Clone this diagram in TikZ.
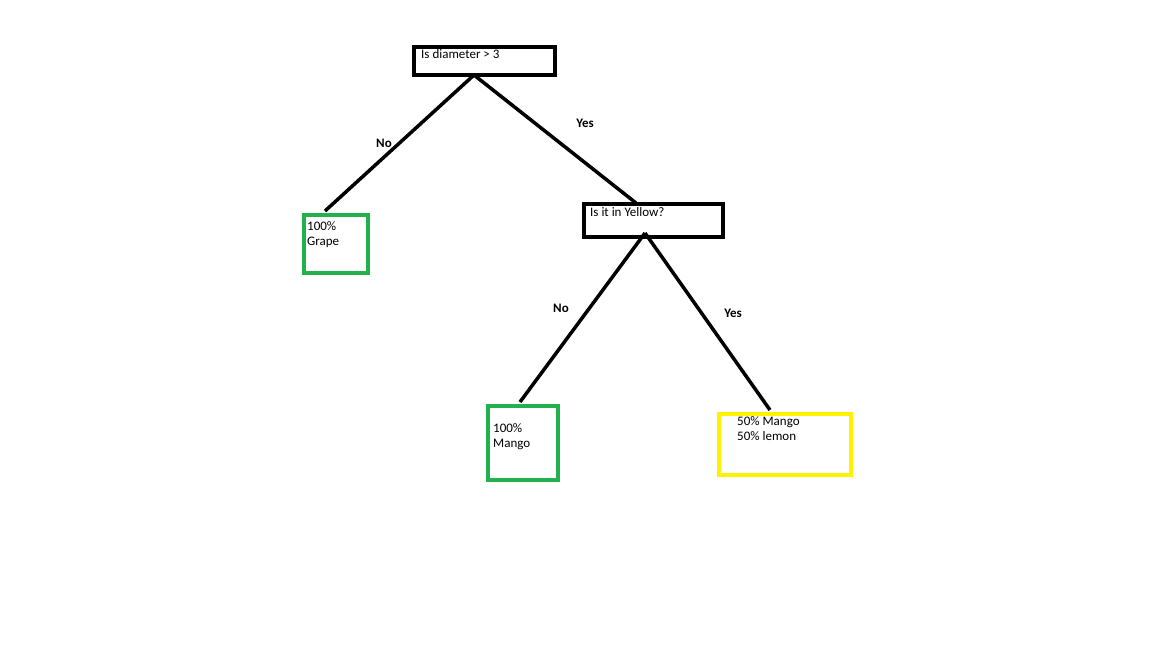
\documentclass[tikz,border=0pt]{standalone}
\usepackage{fontspec}
\setmainfont{Carlito}
\begin{document}
\begin{tikzpicture}[x=1pt,y=-1pt,
  box/.style={draw,line width=3.5pt,inner sep=0pt,anchor=north west},
  txt/.style={font=\fontsize{13}{15}\selectfont,align=left,anchor=north west,inner sep=0pt},
  edge/.style={line width=3.5pt},
  lab/.style={font=\fontsize{13}{15}\selectfont\bfseries,inner sep=0pt}]
\useasboundingbox (0,0) rectangle (1152,648);
\definecolor{gr}{RGB}{34,177,76}
\definecolor{yl}{RGB}{255,242,0}
\node[box,minimum width=141pt,minimum height=28pt] (root) at (412,45) {};
\node[txt] (roott) at (421,49) {Is diameter > 3};
\node[box,gr,minimum width=64pt,minimum height=58pt] (grape) at (302,213) {};
\node[txt] (grapet) at (307,221) {100\%\\Grape};
\node[box,minimum width=139pt,minimum height=33pt] (yel) at (582,202) {};
\node[txt] (yelt) at (590,207) {Is it in Yellow?};
\node[box,gr,minimum width=70pt,minimum height=74pt] (mango) at (486,404) {};
\node[txt] (mangot) at (493,423) {100\%\\Mango};
\node[box,yl,minimum width=132pt,minimum height=61pt] (mix) at (717,412) {};
\node[txt,text=black] (mixt) at (737,416) {50\% Mango\\50\% lemon};
\coordinate (r0) at (474,75);
\coordinate (g0) at (325,211);
\coordinate (y0) at (636,203);
\coordinate (y1) at (645,233);
\coordinate (m0) at (520,402);
\coordinate (x0) at (770,410);
\draw[edge] (r0) -- (g0);
\draw[edge] (r0) -- (y0);
\draw[edge] (y1) -- (m0);
\draw[edge] (y1) -- (x0);
\node[lab] (l1) at (384,143) {No};
\node[lab] (l2) at (585,123) {Yes};
\node[lab] (l3) at (561,308) {No};
\node[lab] (l4) at (733,313) {Yes};
\end{tikzpicture}
\end{document}
